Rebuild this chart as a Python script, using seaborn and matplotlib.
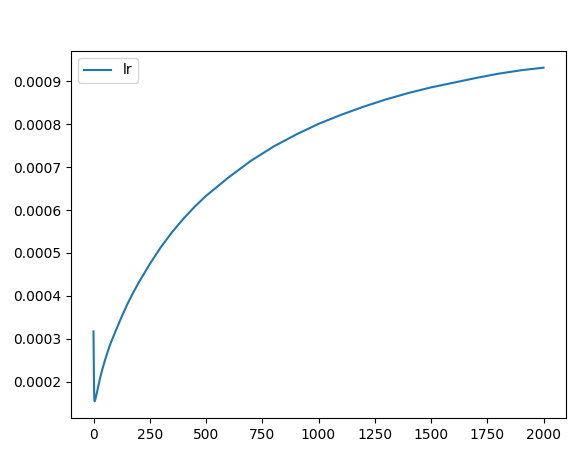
import matplotlib
matplotlib.use("Agg")
import matplotlib.pyplot as plt
import seaborn as sns
import pandas as pd

steps = [0, 1, 2, 3, 4, 5, 6, 8, 10, 15, 20, 30, 40, 50, 62, 75, 100, 125, 150, 175,
         200, 250, 300, 350, 400, 450, 500, 600, 700, 800, 900, 1000, 1100, 1200,
         1300, 1400, 1500, 1600, 1700, 1800, 1900, 2000]
lr = [3.17e-4, 2.60e-4, 2.05e-4, 1.72e-4, 1.58e-4, 1.54e-4, 1.55e-4, 1.58e-4, 1.63e-4,
      1.74e-4, 1.86e-4, 2.10e-4, 2.30e-4, 2.48e-4, 2.68e-4, 2.88e-4, 3.20e-4, 3.51e-4,
      3.80e-4, 4.06e-4, 4.30e-4, 4.74e-4, 5.14e-4, 5.49e-4, 5.80e-4, 6.08e-4, 6.33e-4,
      6.76e-4, 7.15e-4, 7.48e-4, 7.76e-4, 8.01e-4, 8.22e-4, 8.41e-4, 8.58e-4, 8.73e-4,
      8.86e-4, 8.97e-4, 9.08e-4, 9.18e-4, 9.26e-4, 9.32e-4]
series_name = "lr"

df = pd.DataFrame({"step": steps, "lr": lr})

fig = plt.figure(figsize=(5.84, 4.63), dpi=100)
ax = fig.add_axes([71 / 584, 45 / 463, 495 / 584, 367 / 463])
sns.lineplot(data=df, x="step", y="lr", ax=ax, color="#1f77b4", linewidth=1.5,
             label=series_name)
ax.set_xlabel("")
ax.set_ylabel("")
ax.set_xticks([0, 250, 500, 750, 1000, 1250, 1500, 1750, 2000])
ax.legend(loc="upper left")
fig.savefig("out.png", dpi=100)
